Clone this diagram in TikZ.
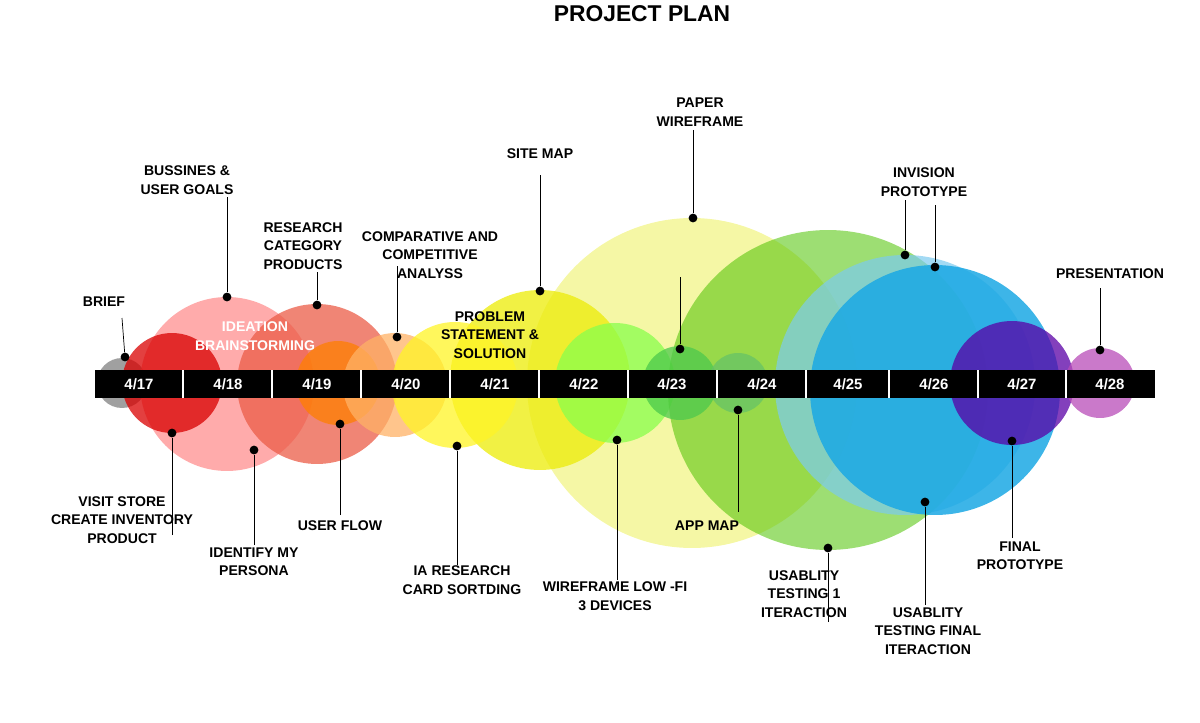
\documentclass[tikz,border=0pt]{standalone}
\usepackage{fontspec}
\setmainfont{Liberation Sans}
\usetikzlibrary{positioning}
\definecolor{skyblue}{HTML}{1BA8E4}
\definecolor{lightsky}{HTML}{7CCBEF}
\tikzset{
  bubble/.style = {circle, inner sep=0pt, fill opacity=0.75, draw=none},
  tag/.style    = {font=\bfseries\fontsize{8}{10.5}\selectfont, align=center, text=black},
  day/.style    = {font=\bfseries\fontsize{8.5}{10}\selectfont, text=white},
  lead/.style   = {draw=black, thin},
  pin/.style    = {circle, fill=black, inner sep=0pt, minimum size=5pt},
}
\begin{document}
\begin{tikzpicture}[x=0.02cm, y=-0.02cm]
  \useasboundingbox (0,0) rectangle (1200,723);
  \node[font=\bfseries\fontsize{13}{15}\selectfont] (title) at (642,14) {PROJECT PLAN};
  % bubbles
  \node (b1)  [bubble, minimum size=1cm,    fill=gray]            at (122,383) {};
  \node (b3)  [bubble, minimum size=3.48cm, fill=red!40!pink!80]  at (227,384) {};
  \node (b2)  [bubble, minimum size=2cm,    fill=red!85!black]    at (172,383) {};
  \node (b4)  [bubble, minimum size=3.2cm,  fill=red!60!brown!80] at (317,384) {};
  \node (b5)  [bubble, minimum size=1.68cm, fill=orange]          at (338,383) {};
  \node (b6)  [bubble, minimum size=2.08cm, fill=orange!60]       at (395,385) {};
  \node (b10) [bubble, minimum size=6.6cm,  fill=yellow!55!lime!60, fill opacity=0.6] at (692,383) {};
  \node (b8)  [bubble, minimum size=3.6cm,  fill=yellow!70!lime]  at (540,380) {};
  \node (b7)  [bubble, minimum size=2.52cm, fill=yellow!85]       at (455,385) {};
  \node (b9)  [bubble, minimum size=2.4cm,  fill=green!55!lime!70] at (615,383) {};
  \node (b13) [bubble, minimum size=6.4cm,  fill=green!60!black!60!lime, fill opacity=0.55] at (828,390) {};
  \node (b11) [bubble, minimum size=1.48cm, fill=green!70!black!70]  at (680,383) {};
  \node (b12) [bubble, minimum size=1.2cm,  fill=green!60!black!60]  at (738,383) {};
  \node (b14) [bubble, minimum size=5.2cm,  fill=lightsky, fill opacity=0.7] at (905,385) {};
  \node (b15) [bubble, minimum size=5cm,    fill=skyblue, fill opacity=0.85] at (935,390) {};
  \node (b16) [bubble, minimum size=2.48cm, fill=violet!70!blue]     at (1012,383) {};
  \node (b17) [bubble, minimum size=1.4cm,  fill=violet!80!magenta!70] at (1100,383) {};
  % timeline
  \fill[black] (95,370) rectangle (1155,398);
  \foreach \x in {183,272,361,450,539,628,717,806,889,978,1066}
    \draw[white, line width=1pt] (\x,370) -- (\x,398);
  \foreach \x/\d in {139/4\slash17,228/4\slash18,317/4\slash19,406/4\slash20,495/4\slash21,584/4\slash22,672/4\slash23,762/4\slash24,848/4\slash25,934/4\slash26,1022/4\slash27,1110/4\slash28}
    \node[day] at (\x,384) {\d};
  % labels above
  \node[tag, text=white] (idea) at (255,336) {IDEATION\\BRAINSTORMING};
  \node[tag] (prob) at (490,335) {PROBLEM\\STATEMENT \&\\SOLUTION};
  \node[tag] (brief) at (104,302) {BRIEF};
  \node[tag] (goals) at (187,180) {BUSSINES \&\\USER GOALS};
  \node[tag] (cat)   at (303,246) {RESEARCH\\CATEGORY\\PRODUCTS};
  \node[tag] (comp)  at (430,255) {COMPARATIVE AND\\COMPETITIVE\\ANALYSS};
  \node[tag] (site)  at (540,154) {SITE MAP};
  \node[tag] (paper) at (700,112) {PAPER\\WIREFRAME};
  \node[tag] (invis) at (924,182) {INVISION\\PROTOTYPE};
  \node[tag] (pres)  at (1110,274) {PRESENTATION};
  % labels below
  \node[tag] (visit) at (122,520) {VISIT STORE\\CREATE INVENTORY\\PRODUCT};
  \node[tag] (pers)  at (254,562) {IDENTIFY MY\\PERSONA};
  \node[tag] (flow)  at (340,526) {USER FLOW};
  \node[tag] (ia)    at (462,580) {IA RESEARCH\\CARD SORTDING};
  \node[tag] (wire)  at (615,596) {WIREFRAME LOW -FI\\3 DEVICES};
  \node[tag] (app)   at (707,526) {APP MAP};
  \node[tag] (use1)  at (804,594) {USABLITY\\TESTING 1\\ITERACTION};
  \node[tag] (usef)  at (928,631) {USABLITY\\TESTING FINAL\\ITERACTION};
  \node[tag] (final) at (1020,556) {FINAL\\PROTOTYPE};
  % pins
  \foreach \n/\x/\y in {pbrief/125/357,pgoals/227/297,pcat/317/305,pcomp/397/337,psite/540/291,ppaper/693/218,
      pinv1/905/255,pinv2/935/267,ppres/1100/350,pmid/680/349,pvisit/172/433,ppers/254/450,pflow/340/424,
      pia/457/446,pwire/617/440,papp/738/410,puse1/828/548,pusef/925/502,pfinal/1012/441}
    \node[pin] (\n) at (\x,\y) {};
  % leaders
  \coordinate (ebrief) at (122,318);  \coordinate (egoals) at (227,197);
  \coordinate (ecat) at (317,272);    \coordinate (ecomp) at (397,266);
  \coordinate (esite) at (540,175);   \coordinate (epaper) at (693,130);
  \coordinate (einv1) at (905,200);   \coordinate (einv2) at (935,205);
  \coordinate (epres) at (1100,288);  \coordinate (emid) at (680,277);
  \coordinate (evisit) at (172,535);  \coordinate (epers) at (254,545);
  \coordinate (eflow) at (340,515);   \coordinate (eia) at (457,565);
  \coordinate (ewire) at (617,580);   \coordinate (eapp) at (738,512);
  \coordinate (euse1) at (828,622);   \coordinate (eusef) at (925,605);
  \coordinate (efinal) at (1012,538);
  \foreach \a/\b in {ebrief/pbrief,egoals/pgoals,ecat/pcat,ecomp/pcomp,esite/psite,epaper/ppaper,einv1/pinv1,
      einv2/pinv2,epres/ppres,emid/pmid,evisit/pvisit,epers/ppers,eflow/pflow,eia/pia,ewire/pwire,eapp/papp,
      euse1/puse1,eusef/pusef,efinal/pfinal}
    \draw[lead] (\a) -- (\b);
\end{tikzpicture}
\end{document}
